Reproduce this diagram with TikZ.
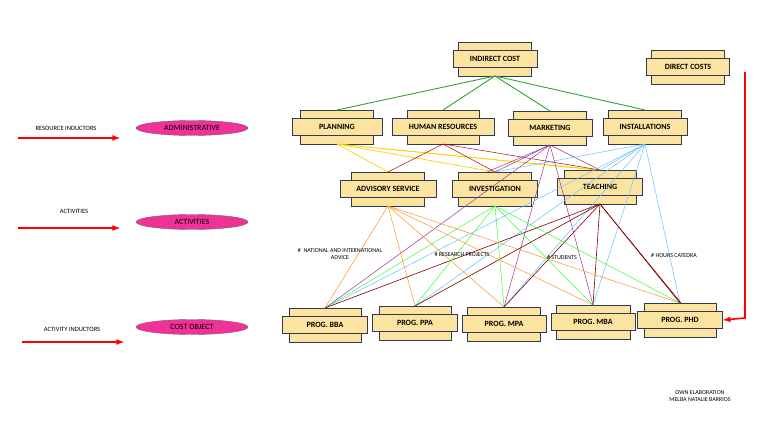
\documentclass[tikz,border=0pt]{standalone}
\usepackage{fontspec}
\usetikzlibrary{shapes.geometric}
\setmainfont{Carlito}
\definecolor{boxf}{HTML}{FCE4A0}
\definecolor{boxl}{HTML}{2E3A55}
\begin{document}
\begin{tikzpicture}[x=1pt,y=-1pt,
  bx/.style={draw=boxl,line width=0.8pt,fill=boxf,font=\bfseries\fontsize{8}{9}\selectfont,minimum height=17pt,inner sep=0pt},
  nb/.style={draw=boxl,line width=0.8pt,fill=boxf},
  el/.style={ellipse,draw=black!60,fill=magenta!75!pink,minimum width=112pt,minimum height=15pt,inner sep=0pt,font=\fontsize{8}{9}\selectfont},
  lb/.style={font=\fontsize{6}{7}\selectfont,align=center,inner sep=1pt},
  ll/.style={font=\fontsize{6.5}{7.5}\selectfont,inner sep=1pt},
  ra/.style={red,line width=1.6pt,-latex},
  g/.style={green!55!black!80,line width=0.9pt},
  o/.style={orange!85,line width=0.5pt},
  r/.style={red!70!black,line width=0.5pt},
  p/.style={violet!80,line width=0.5pt},
  b/.style={blue!40!cyan!60,line width=0.5pt},
  gr/.style={green!80,line width=0.5pt},
  dr/.style={red!50!black,line width=0.6pt}]
\useasboundingbox (0,0) rectangle (768,433);
\newcommand\pbox[6]{%
  \fill[nb] ({#2-#5/2},{#3-17}) rectangle ({#2+#5/2},{#3+17});
  \node[bx,minimum width=#4 pt] (#1) at (#2,#3) {#6};
  \coordinate (#1t) at (#2,{#3-17});
  \coordinate (#1b) at (#2,{#3+17});}
\pbox{ic}{495}{59}{84}{73}{INDIRECT COST}
\pbox{dc}{688}{67}{83}{73}{DIRECT COSTS}
\pbox{pl}{337}{127}{90}{73}{PLANNING}
\pbox{hr}{443}{127}{102}{72}{HUMAN RESOURCES}
\pbox{mk}{550}{128}{84}{73}{MARKETING}
\pbox{in}{645}{127}{84}{73}{INSTALLATIONS}
\pbox{ad}{388}{189}{96}{73}{ADVISORY SERVICE}
\pbox{iv}{495}{189}{85}{73}{INVESTIGATION}
\pbox{te}{600}{187}{85}{72}{TEACHING}
\pbox{bba}{325}{325}{85}{72}{PROG. BBA}
\pbox{ppa}{415}{323}{85}{72}{PROG. PPA}
\pbox{mpa}{504}{324}{84}{73}{PROG. MPA}
\pbox{mba}{593}{322}{84}{74}{PROG. MBA}
\pbox{phd}{680}{320}{85}{72}{PROG. PHD}
% level 1
\foreach \t in {pl,hr,mk,in} \draw[g] (icb) -- (\t t);
% level 2
\foreach \t in {adt,ivt,tet} \draw[o,yellow!70!orange,line width=0.7pt] (plb) -- (\t);
\draw[o,yellow!70!orange,line width=0.7pt] (plb) -- ([xshift=-4pt]tet);
\foreach \t in {adt,ivt,tet} \draw[r] (hrb) -- (\t);
\foreach \t in {ivt,tet,bbat,mpat,mbat} \draw[p] (mkb) -- (\t);
\draw[p] (mkb) -- ([xshift=-8pt]ivt);
\foreach \t in {ivt,tet,bbat,ppat,mpat,mbat,phdt} \draw[b] (inb) -- (\t);
% level 3
\foreach \t in {bbat,ppat,mpat,mbat,phdt} {
  \draw[o] (adb) -- (\t);
  \draw[gr] (ivb) -- (\t);
  \draw[dr] (teb) -- (\t);}
\draw[dr] (teb) -- ([xshift=1pt]phdt);
% labels
\node[lb] (l1) at (340,254) {\#\ \ NATIONAL AND INTERNATIONAL\\ADVICE};
\node[lb] (l2) at (462,254) {\# RESEARCH PROJECTS};
\node[lb] (l3) at (562,257) {\# STUDENTS};
\node[lb] (l4) at (674,255) {\# HOURS CATEDRA};
% left
\node[el] (e1) at (192,128) {ADMINISTRATIVE};
\node[el] (e2) at (192,222) {ACTIVITIES};
\node[el] (e3) at (192,327) {COST OBJECT};
\node[ll] (t1) at (66,128) {RESOURCE INDUCTORS};
\node[ll] (t2) at (74,211) {ACTIVITIES};
\node[ll] (t3) at (72,329) {ACTIVITY INDUCTORS};
\coordinate (a1) at (18,138); \coordinate (b1) at (120,138);
\coordinate (a2) at (18,228); \coordinate (b2) at (120,228);
\coordinate (a3) at (22,342); \coordinate (b3) at (124,342);
\draw[ra] (a1) -- (b1);
\draw[ra] (a2) -- (b2);
\draw[ra] (a3) -- (b3);
\coordinate (rt) at (745,72);
\draw[ra] (rt) -- (745,318) -- (phd.east);
\node[lb] (f) at (700,396) {OWN ELABORATION\\MELBA NATALIE BARRIOS};
\end{tikzpicture}
\end{document}
